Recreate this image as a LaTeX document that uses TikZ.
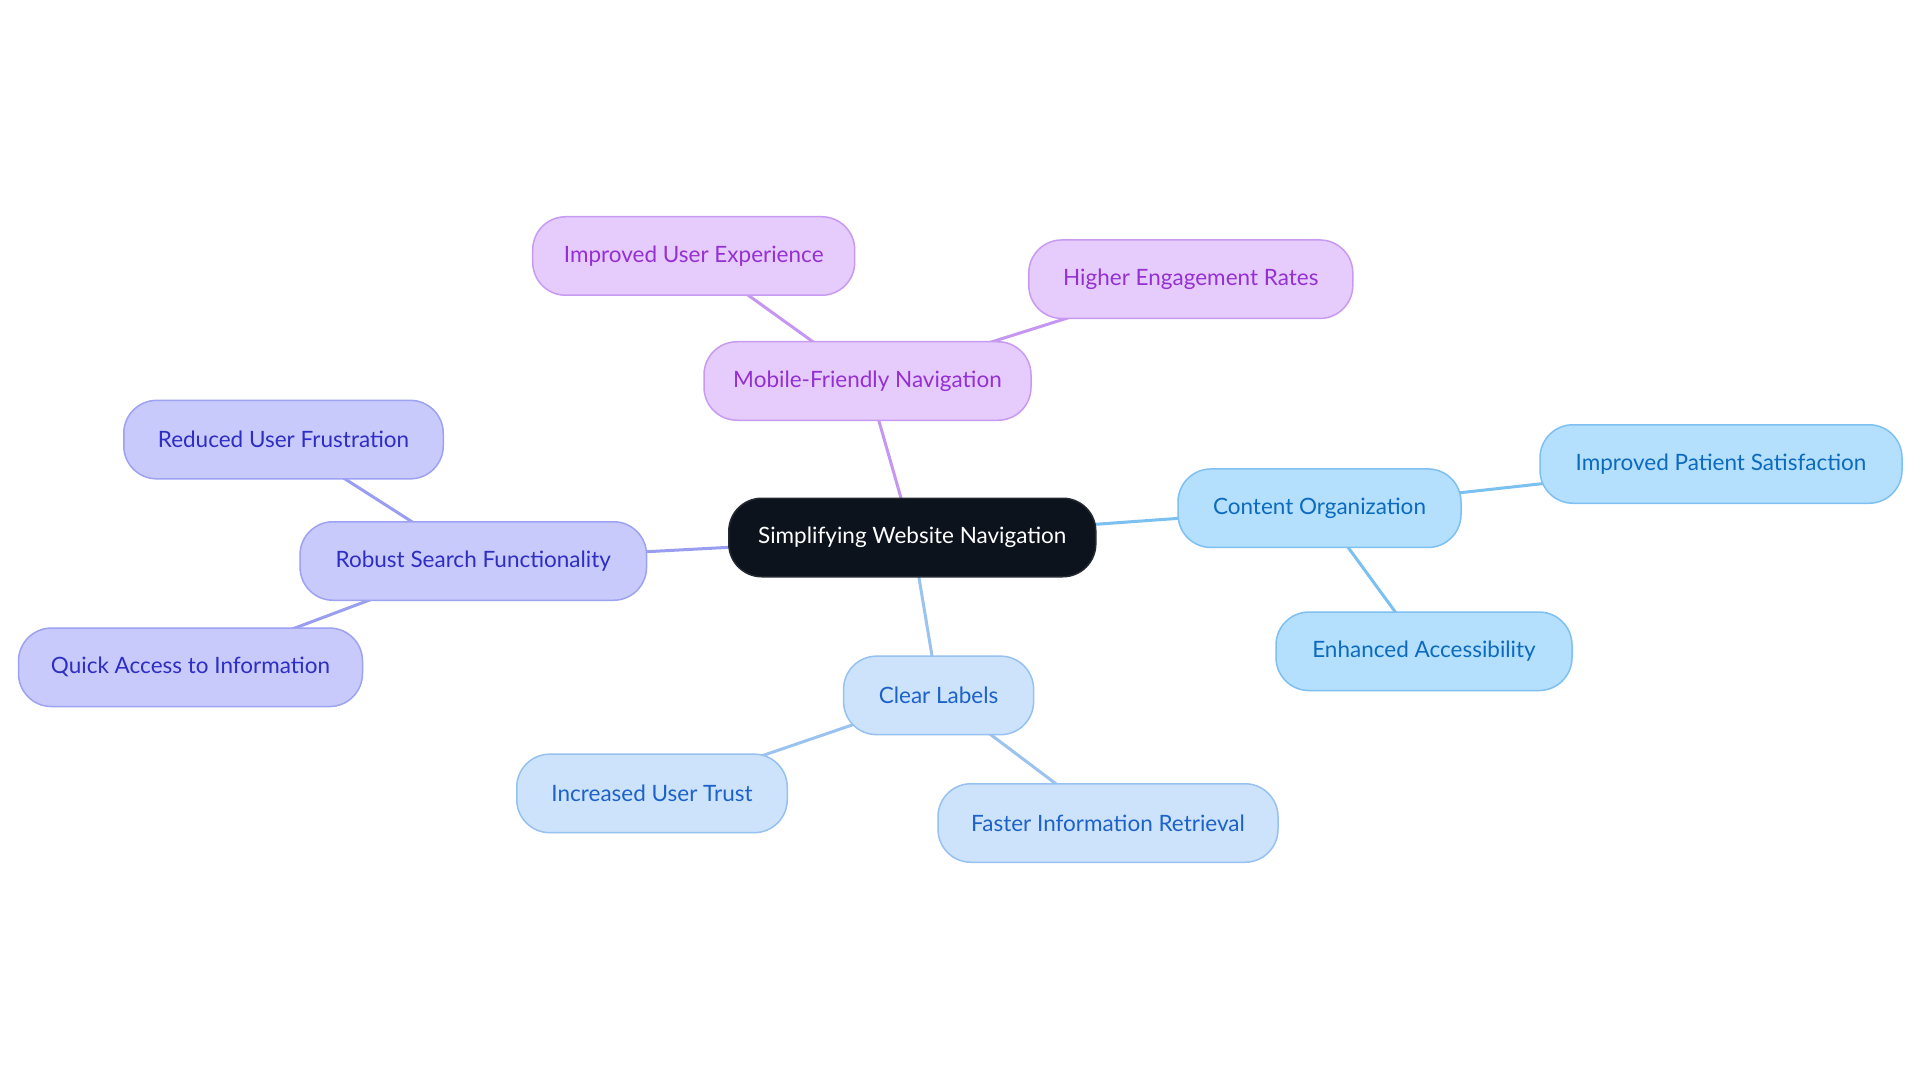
\documentclass[tikz,border=0pt]{standalone}
\usepackage{fontspec}
\setmainfont{Lato}
\usetikzlibrary{backgrounds}
\definecolor{pFill}{HTML}{E6CCFD}
\definecolor{pDraw}{HTML}{C89AF2}
\definecolor{pText}{HTML}{9430D4}
\definecolor{pEdge}{HTML}{C596F2}
\definecolor{vFill}{HTML}{C8CAFB}
\definecolor{vDraw}{HTML}{9EA2F2}
\definecolor{vText}{HTML}{2E2EC4}
\definecolor{vEdge}{HTML}{9A9EF0}
\definecolor{lFill}{HTML}{CDE3FB}
\definecolor{lDraw}{HTML}{96C1F1}
\definecolor{lText}{HTML}{1D62C9}
\definecolor{lEdge}{HTML}{9BC3EF}
\definecolor{sFill}{HTML}{B4DFFD}
\definecolor{sDraw}{HTML}{7EC0F2}
\definecolor{sText}{HTML}{0C6BBF}
\definecolor{sEdge}{HTML}{7AC0F0}
\definecolor{rootFill}{HTML}{0D131D}
\begin{document}
\begin{tikzpicture}[x=1pt,y=-1pt,
  box/.style={rectangle, rounded corners=33pt, minimum height=78.5pt, inner sep=0pt,
    line width=1.5pt, font=\fontsize{22.5}{27}\selectfont},
  rootbox/.style={box, fill=rootFill, draw=rootFill!80!gray, text=white},
  pbox/.style={box, fill=pFill, draw=pDraw, text=pText},
  vbox/.style={box, fill=vFill, draw=vDraw, text=vText},
  lbox/.style={box, fill=lFill, draw=lDraw, text=lText},
  sbox/.style={box, fill=sFill, draw=sDraw, text=sText},
  edge/.style={line width=3pt},
]
\useasboundingbox (0,0) rectangle (1920,1083);

\node[rootbox, minimum width=367pt] (c) at (912.3,537.5) {Simplifying Website Navigation};

\node[pbox, minimum width=327pt] (m) at (867.5,381) {Mobile-Friendly Navigation};
\node[pbox, minimum width=322pt] (ux) at (693.7,256) {Improved User Experience};
\node[pbox, minimum width=324pt] (he) at (1190.8,279.2) {Higher Engagement Rates};

\node[vbox, minimum width=346.5pt] (r) at (473.3,561) {Robust Search Functionality};
\node[vbox, minimum width=319.5pt] (rf) at (283.5,439.6) {Reduced User Frustration};
\node[vbox, minimum width=344pt] (qa) at (190.5,667.3) {Quick Access to Information};

\node[sbox, minimum width=283pt] (co) at (1319.5,508.2) {Content Organization};
\node[sbox, minimum width=362pt] (ps) at (1721,464) {Improved Patient Satisfaction};
\node[sbox, minimum width=296pt] (ea) at (1424,651.3) {Enhanced Accessibility};

\node[lbox, minimum width=190pt] (cl) at (938.6,695.4) {Clear Labels};
\node[lbox, minimum width=270.5pt] (ut) at (652,793.4) {Increased User Trust};
\node[lbox, minimum width=340pt] (fi) at (1108,823) {Faster Information Retrieval};

\begin{scope}[on background layer]
\fill[white] (0,0) rectangle (1920,1083);
\draw[edge, pEdge] (c.center) -- (m.center);
\draw[edge, pEdge] (m.center) -- (ux.center);
\draw[edge, pEdge] (m.center) -- (he.center);
\draw[edge, vEdge] (c.center) -- (r.center);
\draw[edge, vEdge] (r.center) -- (rf.center);
\draw[edge, vEdge] (r.center) -- (qa.center);
\draw[edge, sEdge] (c.center) -- (co.center);
\draw[edge, sEdge] (co.center) -- (ps.center);
\draw[edge, sEdge] (co.center) -- (ea.center);
\draw[edge, lEdge] (c.center) -- (cl.center);
\draw[edge, lEdge] (cl.center) -- (ut.center);
\draw[edge, lEdge] (cl.center) -- (fi.center);
\end{scope}
\end{tikzpicture}
\end{document}
